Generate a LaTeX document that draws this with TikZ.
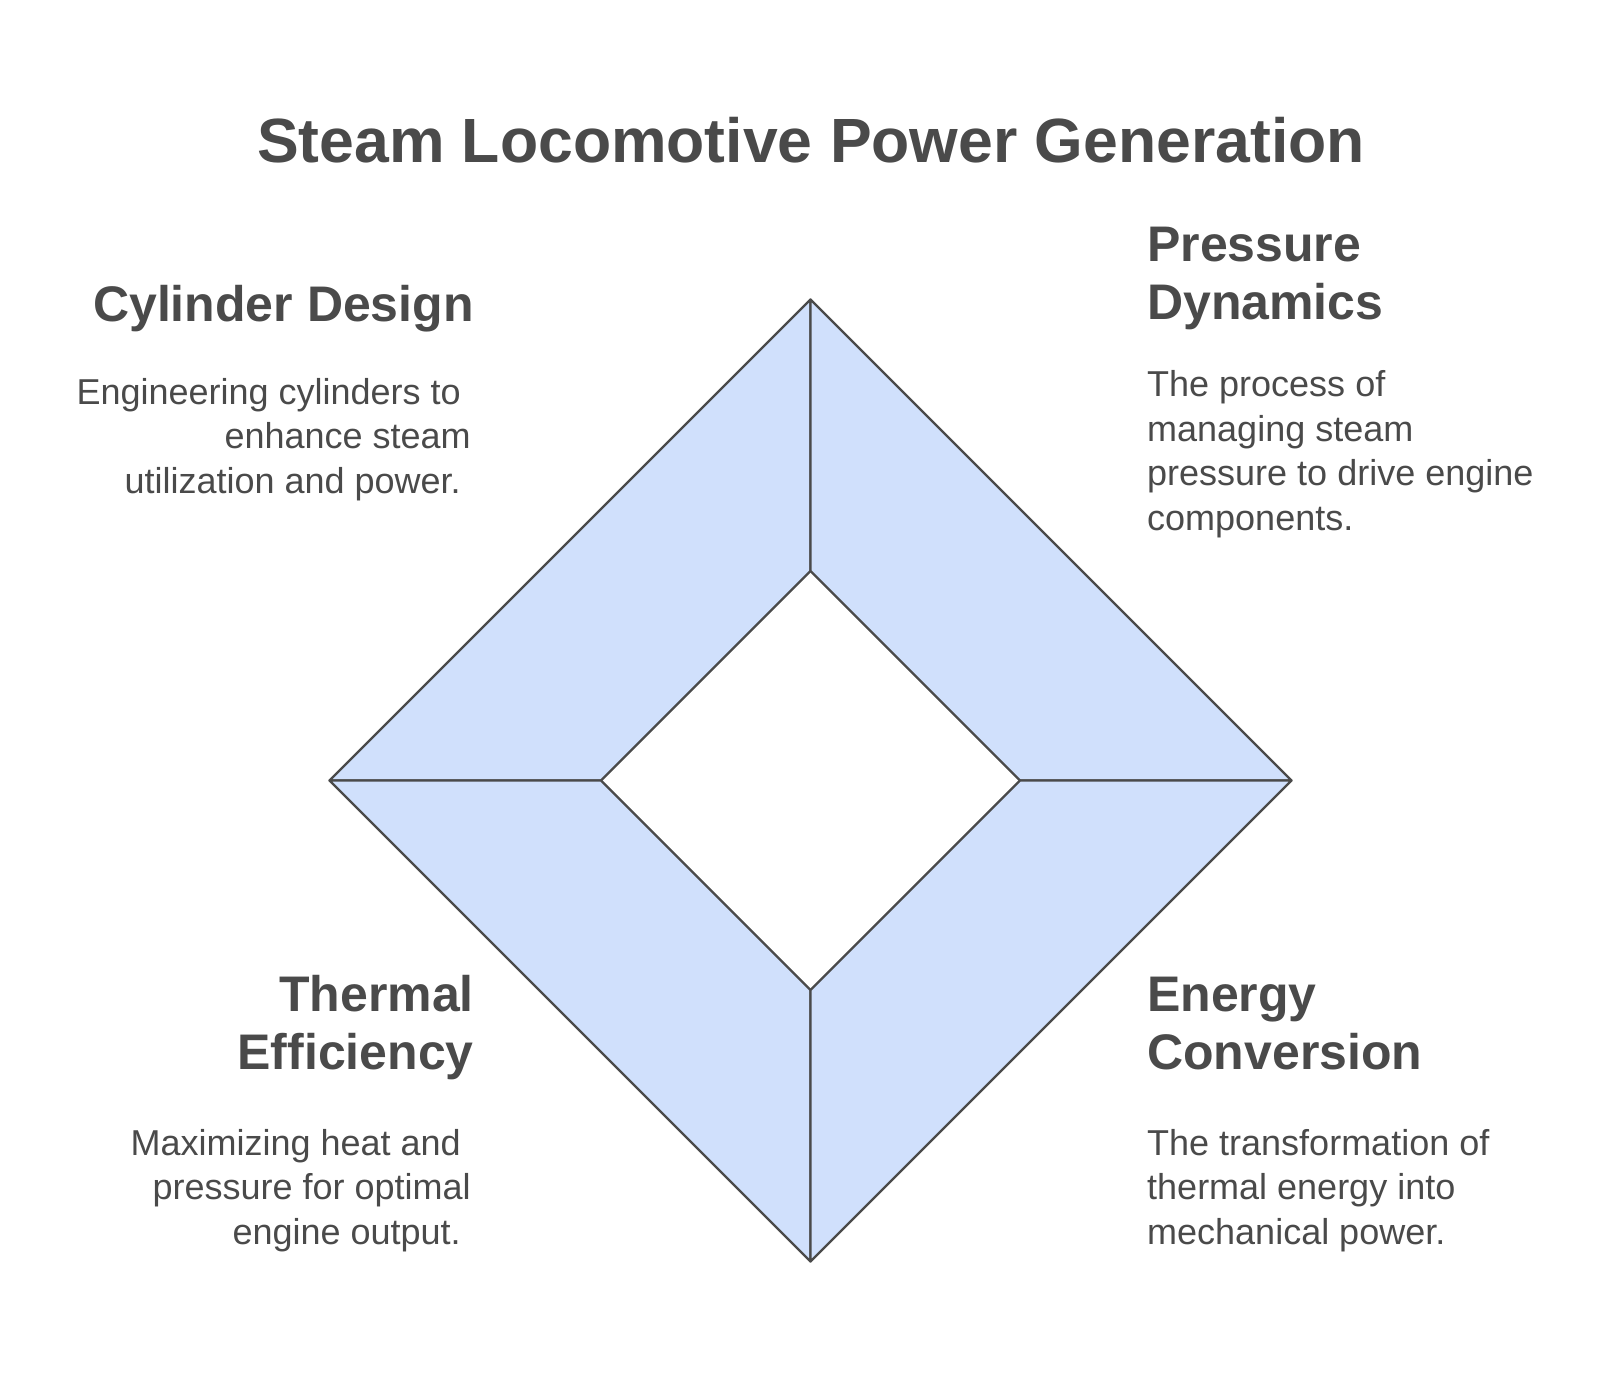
\documentclass[tikz,border=0pt]{standalone}
\usepackage{fontspec}
\setmainfont{Liberation Sans}
\definecolor{txt}{HTML}{4A4A4A}
\definecolor{fillb}{HTML}{D0E0FC}
\definecolor{edge}{HTML}{4A4A4A}
\begin{document}
\begin{tikzpicture}[x=1pt,y=-1pt,
  seg/.style={fill=fillb, draw=edge, line width=2.2pt, line join=round},
  title/.style={text=txt, inner sep=0pt, font=\fontsize{62.5}{74}\selectfont\bfseries},
  headr/.style={text=txt, inner sep=0pt, align=left, anchor=base west, font=\fontsize{50}{58.5}\selectfont\bfseries},
  headl/.style={text=txt, inner sep=0pt, align=right, anchor=base east, font=\fontsize{50}{58.5}\selectfont\bfseries},
  bodyr/.style={text=txt, inner sep=0pt, align=left, anchor=base west, font=\fontsize{36}{44.5}\selectfont},
  bodyl/.style={text=txt, inner sep=0pt, align=right, anchor=base east, font=\fontsize{36}{44.5}\selectfont}]
\useasboundingbox (0,0) rectangle (1623,1383);
% diamond corners
\coordinate (OT) at (810.5,299.5);
\coordinate (OL) at (329.5,780.5);
\coordinate (OR) at (1291.5,780.5);
\coordinate (OB) at (810.5,1261.5);
\coordinate (IT) at (810.5,571);
\coordinate (IL) at (601,780.5);
\coordinate (IR) at (1020,780.5);
\coordinate (IB) at (810.5,990);
% four segments
\draw[seg] (OT) -- (OL) -- (IL) -- (IT) -- cycle;
\draw[seg] (OT) -- (OR) -- (IR) -- (IT) -- cycle;
\draw[seg] (OL) -- (OB) -- (IB) -- (IL) -- cycle;
\draw[seg] (OR) -- (OB) -- (IB) -- (IR) -- cycle;
% title
\node[title, anchor=base] (ttl) at (811,162.5) {Steam Locomotive Power Generation};
% top left (anchors are at the baseline of the last line)
\node[headl] (h1) at (474,321) {Cylinder Design};
\node[bodyl] (b1) at (471,493) {Engineering cylinders to\hspace*{10pt}\\enhance steam\\utilization and power.\hspace*{10pt}};
% top right
\node[headr] (h2) at (1147,319.5) {Pressure\\Dynamics};
\node[bodyr] (b2) at (1147,530) {The process of\\managing steam\\pressure to drive engine\\components.};
% bottom left
\node[headl] (h3) at (474,1069.5) {Thermal\\Efficiency};
\node[bodyl] (b3) at (471,1244) {Maximizing heat and\hspace*{10pt}\\pressure for optimal\\engine output.\hspace*{10pt}};
% bottom right
\node[headr] (h4) at (1147,1069.5) {Energy\\Conversion};
\node[bodyr] (b4) at (1147,1244) {The transformation of\\thermal energy into\\mechanical power.};
\end{tikzpicture}
\end{document}
